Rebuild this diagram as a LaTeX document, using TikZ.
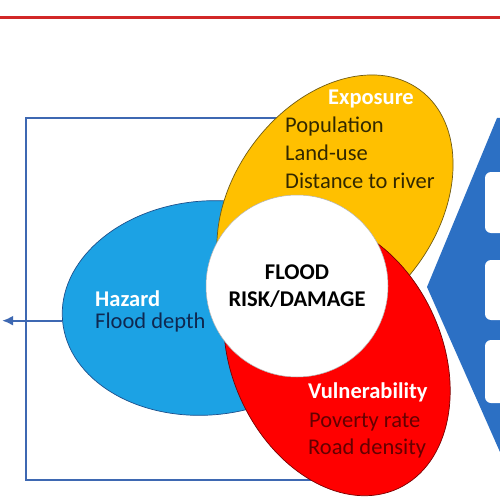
\documentclass[tikz,border=0pt]{standalone}
\usepackage{fontspec}
\setmainfont{Carlito}
\usetikzlibrary{shapes.geometric, positioning, arrows.meta}
\definecolor{hazblue}{RGB}{28,162,228}
\definecolor{hazline}{RGB}{30,80,140}
\definecolor{hazdark}{RGB}{15,40,80}
\definecolor{expyellow}{RGB}{255,192,0}
\definecolor{expline}{RGB}{110,90,20}
\definecolor{expdark}{RGB}{50,40,0}
\definecolor{vulred}{RGB}{255,0,0}
\definecolor{vulline}{RGB}{120,0,0}
\definecolor{vuldark}{RGB}{100,0,0}
\definecolor{chevblue}{RGB}{44,112,196}
\definecolor{frameblue}{RGB}{62,104,178}
\definecolor{topred}{RGB}{210,40,40}

\begin{document}
\begin{tikzpicture}[x=1pt, y=1pt,
    petal/.style = {ellipse, inner sep=0pt, line width=0.7pt},
    head/.style = {anchor=base west, inner sep=0pt, text=white, font=\fontsize{22.5}{27}\selectfont\bfseries},
    item/.style = {anchor=base west, inner sep=0pt, font=\fontsize{22.5}{27}\selectfont},
    panel/.style = {fill=white, rounded corners=6pt, minimum width=70pt, inner sep=0pt}]
    \path[use as bounding box, fill=white] (0,0) rectangle (500,-500);
    \draw[line width=3pt, topred] (0,-17.5) -- (500,-17.5);

    % frame round the three factors
    \coordinate (frametop) at (300,-118);
    \coordinate (framebot) at (340,-480);
    \draw[line width=1.8pt, frameblue] (frametop) -| (26,-480) -- (framebot);

    % the three factors and the core
    \node[petal, fill=hazblue, draw=hazline, minimum width=290pt, minimum height=214pt, rotate=5] (hazard) at (207,-308) {};
    \node[petal, fill=expyellow, draw=expline, minimum width=286pt, minimum height=204pt, rotate=53.6] (exposure) at (335,-205) {};
    \node[petal, fill=vulred, draw=vulline, minimum width=290pt, minimum height=210pt, rotate=-65] (vulnerability) at (337,-357) {};
    \node[circle, fill=white, draw=black!30, line width=0.5pt, minimum size=182pt, inner sep=0pt,
          align=center, font=\fontsize{22.5}{27}\selectfont\bfseries] (core) at (297,-286) {FLOOD\\RISK/DAMAGE};

    \coordinate[left=60pt of hazard.west] (outlet);
    \draw[line width=1.8pt, frameblue, -{Latex[length=11pt, width=10pt]}] (hazard.west) -- (outlet);

    % measures on the right
    \fill[chevblue] (497,-118) -- (427,-287) -- (500,-452) -- (520,-452) -- (520,-118) -- cycle;
    \node[panel, minimum height=61pt] (box1) at (520,-202.5) {};
    \node[panel, minimum height=60pt] (box2) at (520,-290) {};
    \node[panel, minimum height=63pt] (box3) at (520,-371.5) {};

    % labels
    \node[head, anchor=base] (exphead) at (371,-105) {Exposure};
    \node[item, text=expdark] (exp1) at (285,-132) {Population};
    \node[item, text=expdark] (exp2) at (285,-160) {Land-use};
    \node[item, text=expdark] (exp3) at (285,-188) {Distance to river};

    \node[head] (hazhead) at (95,-306.7) {Hazard};
    \node[item, text=hazdark] (haz1) at (95,-328.3) {Flood depth};

    \node[head] (vulhead) at (308,-398) {Vulnerability};
    \node[item, text=vuldark] (vul1) at (309,-427) {Poverty rate};
    \node[item, text=vuldark] (vul2) at (308,-454) {Road density};
\end{tikzpicture}
\end{document}
